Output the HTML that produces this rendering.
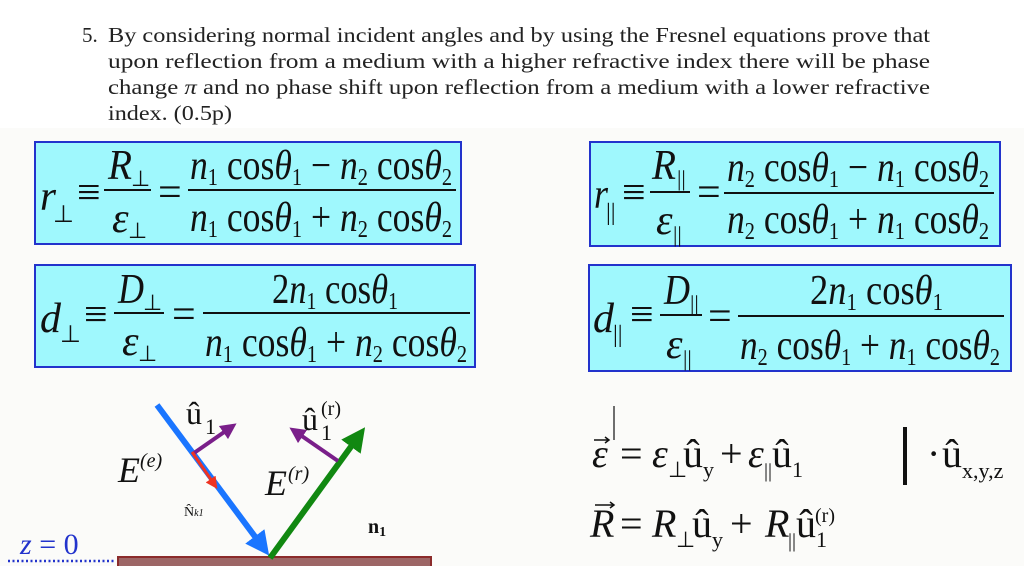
<!DOCTYPE html>
<html><head><meta charset="utf-8"><style>
html,body{margin:0;padding:0;background:#fff;}
svg{display:block;}
text{font-family:"Liberation Serif",serif;}
</style></head><body>
<svg width="1024" height="566" viewBox="0 0 1024 566" xmlns="http://www.w3.org/2000/svg">
<defs>
<marker id="ab" markerWidth="4" markerHeight="4" refX="2" refY="2" orient="auto" markerUnits="strokeWidth"><path d="M0,0 L4,2 L0,4 z" fill="#1a75ff"/></marker>
<marker id="ag" markerWidth="4" markerHeight="4" refX="2" refY="2" orient="auto" markerUnits="strokeWidth"><path d="M0,0 L4,2 L0,4 z" fill="#118811"/></marker>
<marker id="ap" markerWidth="4" markerHeight="4" refX="2" refY="2" orient="auto" markerUnits="strokeWidth"><path d="M0,0 L4,2 L0,4 z" fill="#7a1f8a"/></marker>
<marker id="ar" markerWidth="4" markerHeight="4" refX="2" refY="2" orient="auto" markerUnits="strokeWidth"><path d="M0,0 L4,2 L0,4 z" fill="#ee3322"/></marker>
</defs>
<rect x="0" y="128" width="1024" height="438" fill="#fbfbf9"/>
<g font-size="21" fill="#222">
<text x="82" y="42">5.</text>
<text x="108" y="42" textLength="822" lengthAdjust="spacingAndGlyphs">By considering normal incident angles and by using the Fresnel equations prove that</text>
<text x="108" y="68" textLength="822" lengthAdjust="spacingAndGlyphs">upon reflection from a medium with a higher refractive index there will be phase</text>
<text x="108" y="94" textLength="822" lengthAdjust="spacingAndGlyphs">change <tspan font-style="italic">π</tspan> and no phase shift upon reflection from a medium with a lower refractive</text>
<text x="108" y="120" textLength="124" lengthAdjust="spacingAndGlyphs">index. (0.5p)</text>
</g>
<g fill="#9ff8fd" stroke="#2233cc" stroke-width="2">
<rect x="35" y="142" width="426" height="102"/>
<rect x="35" y="265" width="440" height="102"/>
<rect x="590" y="142" width="410" height="104"/>
<rect x="589" y="265" width="422" height="106"/>
</g>
<g fill="#111" font-size="42">
<text x="40" y="210" font-style="italic" textLength="16" lengthAdjust="spacingAndGlyphs">r</text><text x="53" y="222" font-size="24">⊥</text>
<text x="77" y="206">≡</text>
<text x="108" y="179" font-style="italic" textLength="24" lengthAdjust="spacingAndGlyphs">R</text><text x="131" y="186" font-size="22">⊥</text>
<line x1="104" y1="190" x2="151" y2="190" stroke="#111" stroke-width="2"/>
<text x="112" y="232" font-style="italic">ε</text><text x="128" y="238" font-size="22">⊥</text>
<text x="158" y="206">=</text>
<text x="190" y="179" textLength="262" lengthAdjust="spacingAndGlyphs"><tspan font-style="italic">n</tspan><tspan font-size="24" dy="6">1</tspan><tspan dy="-6"> cos</tspan><tspan font-style="italic">θ</tspan><tspan font-size="24" dy="6">1</tspan><tspan dy="-6"> − </tspan><tspan font-style="italic">n</tspan><tspan font-size="24" dy="6">2</tspan><tspan dy="-6"> cos</tspan><tspan font-style="italic">θ</tspan><tspan font-size="24" dy="6">2</tspan></text>
<line x1="188" y1="190" x2="456" y2="190" stroke="#111" stroke-width="2"/>
<text x="190" y="231" textLength="262" lengthAdjust="spacingAndGlyphs"><tspan font-style="italic">n</tspan><tspan font-size="24" dy="6">1</tspan><tspan dy="-6"> cos</tspan><tspan font-style="italic">θ</tspan><tspan font-size="24" dy="6">1</tspan><tspan dy="-6"> + </tspan><tspan font-style="italic">n</tspan><tspan font-size="24" dy="6">2</tspan><tspan dy="-6"> cos</tspan><tspan font-style="italic">θ</tspan><tspan font-size="24" dy="6">2</tspan></text>
<text x="40" y="332" font-style="italic">d</text><text x="60" y="342" font-size="24">⊥</text>
<text x="84" y="328">≡</text>
<text x="118" y="303" font-style="italic" textLength="26" lengthAdjust="spacingAndGlyphs">D</text><text x="143" y="310" font-size="22">⊥</text>
<line x1="114" y1="313" x2="164" y2="313" stroke="#111" stroke-width="2"/>
<text x="122" y="355" font-style="italic">ε</text><text x="138" y="361" font-size="22">⊥</text>
<text x="172" y="328">=</text>
<text x="272" y="303" textLength="126" lengthAdjust="spacingAndGlyphs">2<tspan font-style="italic">n</tspan><tspan font-size="24" dy="6">1</tspan><tspan dy="-6"> cos</tspan><tspan font-style="italic">θ</tspan><tspan font-size="24" dy="6">1</tspan></text>
<line x1="203" y1="313" x2="470" y2="313" stroke="#111" stroke-width="2"/>
<text x="205" y="356" textLength="262" lengthAdjust="spacingAndGlyphs"><tspan font-style="italic">n</tspan><tspan font-size="24" dy="6">1</tspan><tspan dy="-6"> cos</tspan><tspan font-style="italic">θ</tspan><tspan font-size="24" dy="6">1</tspan><tspan dy="-6"> + </tspan><tspan font-style="italic">n</tspan><tspan font-size="24" dy="6">2</tspan><tspan dy="-6"> cos</tspan><tspan font-style="italic">θ</tspan><tspan font-size="24" dy="6">2</tspan></text>
<text x="594" y="208" font-style="italic" textLength="14" lengthAdjust="spacingAndGlyphs">r</text><text x="606" y="220" font-size="24">||</text>
<text x="622" y="206">≡</text>
<text x="652" y="179" font-style="italic" textLength="24" lengthAdjust="spacingAndGlyphs">R</text><text x="677" y="186" font-size="22">||</text>
<line x1="650" y1="192" x2="690" y2="192" stroke="#111" stroke-width="2"/>
<text x="656" y="234" font-style="italic">ε</text><text x="673" y="242" font-size="22">||</text>
<text x="697" y="206">=</text>
<text x="727" y="181" textLength="262" lengthAdjust="spacingAndGlyphs"><tspan font-style="italic">n</tspan><tspan font-size="24" dy="6">2</tspan><tspan dy="-6"> cos</tspan><tspan font-style="italic">θ</tspan><tspan font-size="24" dy="6">1</tspan><tspan dy="-6"> − </tspan><tspan font-style="italic">n</tspan><tspan font-size="24" dy="6">1</tspan><tspan dy="-6"> cos</tspan><tspan font-style="italic">θ</tspan><tspan font-size="24" dy="6">2</tspan></text>
<line x1="724" y1="193" x2="994" y2="193" stroke="#111" stroke-width="2"/>
<text x="727" y="233" textLength="262" lengthAdjust="spacingAndGlyphs"><tspan font-style="italic">n</tspan><tspan font-size="24" dy="6">2</tspan><tspan dy="-6"> cos</tspan><tspan font-style="italic">θ</tspan><tspan font-size="24" dy="6">1</tspan><tspan dy="-6"> + </tspan><tspan font-style="italic">n</tspan><tspan font-size="24" dy="6">1</tspan><tspan dy="-6"> cos</tspan><tspan font-style="italic">θ</tspan><tspan font-size="24" dy="6">2</tspan></text>
<text x="593" y="332" font-style="italic">d</text><text x="613" y="342" font-size="24">||</text>
<text x="630" y="328">≡</text>
<text x="664" y="304" font-style="italic" textLength="26" lengthAdjust="spacingAndGlyphs">D</text><text x="690" y="311" font-size="22">||</text>
<line x1="660" y1="315" x2="702" y2="315" stroke="#111" stroke-width="2"/>
<text x="666" y="358" font-style="italic">ε</text><text x="683" y="366" font-size="22">||</text>
<text x="708" y="330">=</text>
<text x="810" y="304" textLength="133" lengthAdjust="spacingAndGlyphs">2<tspan font-style="italic">n</tspan><tspan font-size="24" dy="6">1</tspan><tspan dy="-6"> cos</tspan><tspan font-style="italic">θ</tspan><tspan font-size="24" dy="6">1</tspan></text>
<line x1="738" y1="316" x2="1004" y2="316" stroke="#111" stroke-width="2"/>
<text x="740" y="359" textLength="260" lengthAdjust="spacingAndGlyphs"><tspan font-style="italic">n</tspan><tspan font-size="24" dy="6">2</tspan><tspan dy="-6"> cos</tspan><tspan font-style="italic">θ</tspan><tspan font-size="24" dy="6">1</tspan><tspan dy="-6"> + </tspan><tspan font-style="italic">n</tspan><tspan font-size="24" dy="6">1</tspan><tspan dy="-6"> cos</tspan><tspan font-style="italic">θ</tspan><tspan font-size="24" dy="6">2</tspan></text>
</g>
<g fill="#111" font-size="40">
<text x="592" y="467" font-style="italic">ε</text>
<path d="M594,440 L608,440 M605,437 L609,440 L605,443" stroke="#111" stroke-width="1.5" fill="none"/>
<line x1="614" y1="406" x2="614" y2="440" stroke="#111" stroke-width="1.2"/>
<text x="620" y="467">=</text>
<text x="652" y="467" font-style="italic">ε</text><text x="668" y="477" font-size="22">⊥</text>
<text x="683" y="467">û</text><text x="703" y="477" font-size="22">y</text>
<text x="720" y="467">+</text>
<text x="748" y="467" font-style="italic">ε</text><text x="764" y="477" font-size="20">||</text>
<text x="772" y="467">û</text><text x="792" y="477" font-size="22">1</text>
<rect x="903" y="427" width="4" height="58" fill="#111"/>
<text x="927" y="467">·</text>
<text x="942" y="467">û</text><text x="962" y="478" font-size="22">x,y,z</text>
<text x="590" y="537" font-style="italic">R</text>
<path d="M595,505 L614,505 M610,502 L614,505 L610,508" stroke="#111" stroke-width="1.5" fill="none"/>
<text x="620" y="537">=</text>
<text x="652" y="537" font-style="italic">R</text><text x="676" y="547" font-size="22">⊥</text>
<text x="692" y="537">û</text><text x="712" y="547" font-size="22">y</text>
<text x="730" y="537">+</text>
<text x="765" y="537" font-style="italic">R</text><text x="788" y="547" font-size="20">||</text>
<text x="796" y="537">û</text><text x="816" y="547" font-size="22">1</text><text x="815" y="522" font-size="20">(r)</text>
</g>
<rect x="118" y="557" width="313" height="12" fill="#9d6666" stroke="#8b2b2b" stroke-width="2"/>
<line x1="8" y1="561" x2="116" y2="561" stroke="#2233cc" stroke-width="2.5" stroke-dasharray="2,2.5"/>
<text x="20" y="554" font-size="30" fill="#2233cc" font-style="italic">z <tspan font-style="normal">= 0</tspan></text>
<line x1="157" y1="405" x2="262" y2="546" stroke="#1a75ff" stroke-width="6" marker-end="url(#ab)"/>
<line x1="270" y1="558" x2="358" y2="437" stroke="#118811" stroke-width="6" marker-end="url(#ag)"/>
<line x1="194" y1="453" x2="230" y2="428" stroke="#7a1f8a" stroke-width="4" marker-end="url(#ap)"/>
<line x1="338" y1="461" x2="296" y2="432" stroke="#7a1f8a" stroke-width="4" marker-end="url(#ap)"/>
<line x1="192" y1="452" x2="214" y2="484" stroke="#ee3322" stroke-width="3" marker-end="url(#ar)"/>
<g fill="#111">
<text x="186" y="424" font-size="32">û</text><text x="205" y="434" font-size="22">1</text>
<text x="302" y="430" font-size="32">û</text><text x="321" y="440" font-size="22">1</text><text x="321" y="415" font-size="20">(r)</text>
<text x="118" y="482" font-size="36" font-style="italic">E</text><text x="140" y="467" font-size="20" font-style="italic">(e)</text>
<text x="265" y="495" font-size="36" font-style="italic">E</text><text x="288" y="480" font-size="20" font-style="italic">(r)</text>
<text x="184" y="516" font-size="14">N̂<tspan font-size="10" font-style="italic">k1</tspan></text>
<text x="368" y="533" font-size="20" font-weight="bold" font-family="Liberation Sans, sans-serif">n<tspan font-size="14" dy="3">1</tspan></text>
</g>
</svg>
</body></html>
